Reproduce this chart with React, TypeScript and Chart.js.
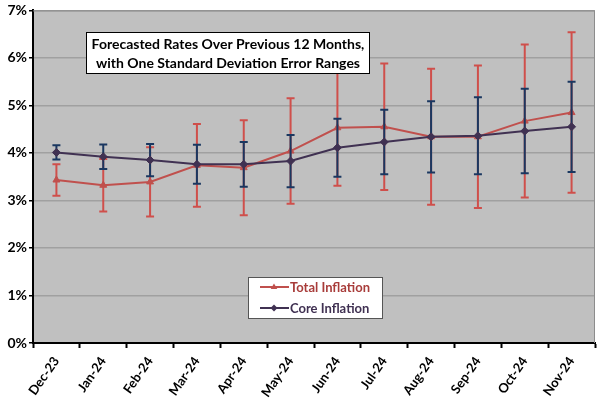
import React, { useEffect, useRef } from "react";
import { Chart, registerables } from "chart.js";

Chart.register(...registerables);

const categories = ["Dec-23", "Jan-24", "Feb-24", "Mar-24", "Apr-24", "May-24", "Jun-24", "Jul-24", "Aug-24", "Sep-24", "Oct-24", "Nov-24"];
const totalInflation = [3.43, 3.32, 3.39, 3.74, 3.69, 4.04, 4.53, 4.55, 4.34, 4.34, 4.67, 4.85];
const totalStdDev = [0.33, 0.55, 0.73, 0.87, 1.0, 1.11, 1.22, 1.33, 1.43, 1.5, 1.61, 1.69];
const coreInflation = [4.01, 3.92, 3.85, 3.76, 3.76, 3.83, 4.11, 4.23, 4.34, 4.36, 4.46, 4.55];
const coreStdDev = [0.15, 0.26, 0.34, 0.41, 0.47, 0.55, 0.61, 0.68, 0.75, 0.81, 0.89, 0.95];
const titleLines = ["Forecasted Rates Over Previous 12 Months,", "with One Standard Deviation Error Ranges"];

const RED = "#C0504D";
const RED_ERR = "#CF4F4B";
const PURPLE = "#403152";
const NAVY = "#1A3760";
const FONT = "Lato, 'Open Sans', sans-serif";

function marker(ctx: CanvasRenderingContext2D, style: string, x: number, y: number, r: number) {
  ctx.beginPath();
  if (style === "triangle") {
    ctx.moveTo(x, y - r);
    ctx.lineTo(x + r * 0.95, y + r * 0.6);
    ctx.lineTo(x - r * 0.95, y + r * 0.6);
  } else {
    ctx.moveTo(x, y - r);
    ctx.lineTo(x + r, y);
    ctx.lineTo(x, y + r);
    ctx.lineTo(x - r, y);
  }
  ctx.closePath();
  ctx.fill();
}

export default function App() {
  const ref = useRef<HTMLCanvasElement | null>(null);

  useEffect(() => {
    if (!ref.current) return;
    const errs: Record<number, { err: number[]; color: string }> = {
      0: { err: totalStdDev, color: RED_ERR },
      1: { err: coreStdDev, color: NAVY },
    };

    const plugin = {
      id: "custom",
      beforeDraw(chart: any) {
        const { ctx, chartArea: a } = chart;
        ctx.save();
        ctx.fillStyle = "#C0C0C0";
        ctx.fillRect(a.left, a.top, a.right - a.left, a.bottom - a.top);
        ctx.restore();
      },
      beforeDatasetDraw(chart: any, args: any) {
        const info = errs[args.index];
        if (!info) return;
        const { ctx } = chart;
        const y = chart.scales.y;
        const ds = chart.data.datasets[args.index];
        ctx.save();
        ctx.strokeStyle = info.color;
        ctx.lineWidth = 2;
        args.meta.data.forEach((pt: any, i: number) => {
          const v = ds.data[i];
          const e = info.err[i];
          const yt = y.getPixelForValue(v + e);
          const yb = y.getPixelForValue(v - e);
          const x = pt.x;
          ctx.beginPath();
          ctx.moveTo(x, yt);
          ctx.lineTo(x, yb);
          ctx.moveTo(x - 4, yt);
          ctx.lineTo(x + 4, yt);
          ctx.moveTo(x - 4, yb);
          ctx.lineTo(x + 4, yb);
          ctx.stroke();
        });
        ctx.restore();
      },
      afterDraw(chart: any) {
        const { ctx, chartArea: a } = chart;
        ctx.save();
        ctx.strokeStyle = "#8C8C8C";
        ctx.lineWidth = 1;
        ctx.beginPath();
        ctx.moveTo(a.left, a.top + 0.5);
        ctx.lineTo(a.right - 0.5, a.top + 0.5);
        ctx.lineTo(a.right - 0.5, a.bottom);
        ctx.stroke();

        const tx = 86, ty = 32, tw = 284, th = 42;
        ctx.fillStyle = "#FFFFFF";
        ctx.fillRect(tx, ty, tw, th);
        ctx.strokeStyle = "#000000";
        ctx.lineWidth = 1;
        ctx.strokeRect(tx + 0.5, ty + 0.5, tw - 1, th - 1);
        ctx.fillStyle = "#000000";
        ctx.font = `bold 14px ${FONT}`;
        ctx.textAlign = "center";
        ctx.textBaseline = "middle";
        ctx.fillText(titleLines[0], tx + tw / 2, ty + 12);
        ctx.fillText(titleLines[1], tx + tw / 2, ty + 31);

        const lx = 248, ly = 277, lw = 135, lh = 42;
        ctx.fillStyle = "#FFFFFF";
        ctx.fillRect(lx, ly, lw, lh);
        ctx.strokeStyle = "#555555";
        ctx.strokeRect(lx + 0.5, ly + 0.5, lw - 1, lh - 1);
        const entries = [
          { label: chart.data.datasets[0].label, color: RED, text: "#A83C3A", style: "triangle", y: ly + 10 },
          { label: chart.data.datasets[1].label, color: PURPLE, text: "#403152", style: "rectRot", y: ly + 31 },
        ];
        entries.forEach((e) => {
          ctx.strokeStyle = e.color;
          ctx.lineWidth = 2;
          ctx.beginPath();
          ctx.moveTo(lx + 12, e.y);
          ctx.lineTo(lx + 41, e.y);
          ctx.stroke();
          ctx.fillStyle = e.color;
          marker(ctx, e.style, lx + 26, e.y, 3.5);
          ctx.fillStyle = e.text;
          ctx.font = `bold 13px ${FONT}`;
          ctx.textAlign = "left";
          ctx.textBaseline = "middle";
          ctx.fillText(e.label, lx + 42, e.y + 1);
        });
        ctx.restore();
      },
    };

    const chart = new Chart(ref.current, {
      type: "line",
      data: {
        labels: categories,
        datasets: [
          {
            label: "Total Inflation",
            data: totalInflation,
            borderColor: RED,
            backgroundColor: RED,
            borderWidth: 2,
            pointStyle: "triangle",
            pointRadius: 4,
            pointBorderWidth: 1,
            tension: 0,
            order: 1,
          },
          {
            label: "Core Inflation",
            data: coreInflation,
            borderColor: PURPLE,
            backgroundColor: PURPLE,
            borderWidth: 2,
            pointStyle: "rectRot",
            pointRadius: 4,
            pointBorderWidth: 1,
            tension: 0,
            order: 0,
          },
        ],
      },
      options: {
        animation: false,
        responsive: true,
        maintainAspectRatio: false,
        layout: { padding: { top: 9, right: 1, left: 0, bottom: 0 } },
        plugins: { legend: { display: false }, tooltip: { enabled: false }, title: { display: false } },
        scales: {
          x: {
            offset: true,
            grid: { offset: true, drawOnChartArea: false, drawTicks: true, tickLength: 5, tickColor: "#000", tickWidth: 2 },
            border: { color: "#000", width: 2 },
            ticks: {
              color: "#000",
              font: { family: FONT, weight: "bold", size: 13 },
              minRotation: 55,
              maxRotation: 55,
              autoSkip: false,
              padding: 6,
            },
            afterFit(scale: any) {
              scale.height = 57;
            },
          },
          y: {
            min: 0,
            max: 7,
            grid: { color: "#A0A0A0", lineWidth: 1.5, tickLength: 4, tickColor: "#000" },
            border: { color: "#000", width: 2 },
            ticks: {
              stepSize: 1,
              color: "#000",
              font: { family: FONT, weight: "bold", size: 14 },
              padding: 2,
              callback: (v: any) => `${v}%`,
            },
            afterFit(scale: any) {
              scale.width = 33;
            },
          },
        },
      },
      plugins: [plugin],
    });
    return () => chart.destroy();
  }, []);

  return (
    <div style={{ position: "fixed", left: 0, top: 0, width: 600, height: 400, background: "#fff" }}>
      <canvas ref={ref} />
    </div>
  );
}
